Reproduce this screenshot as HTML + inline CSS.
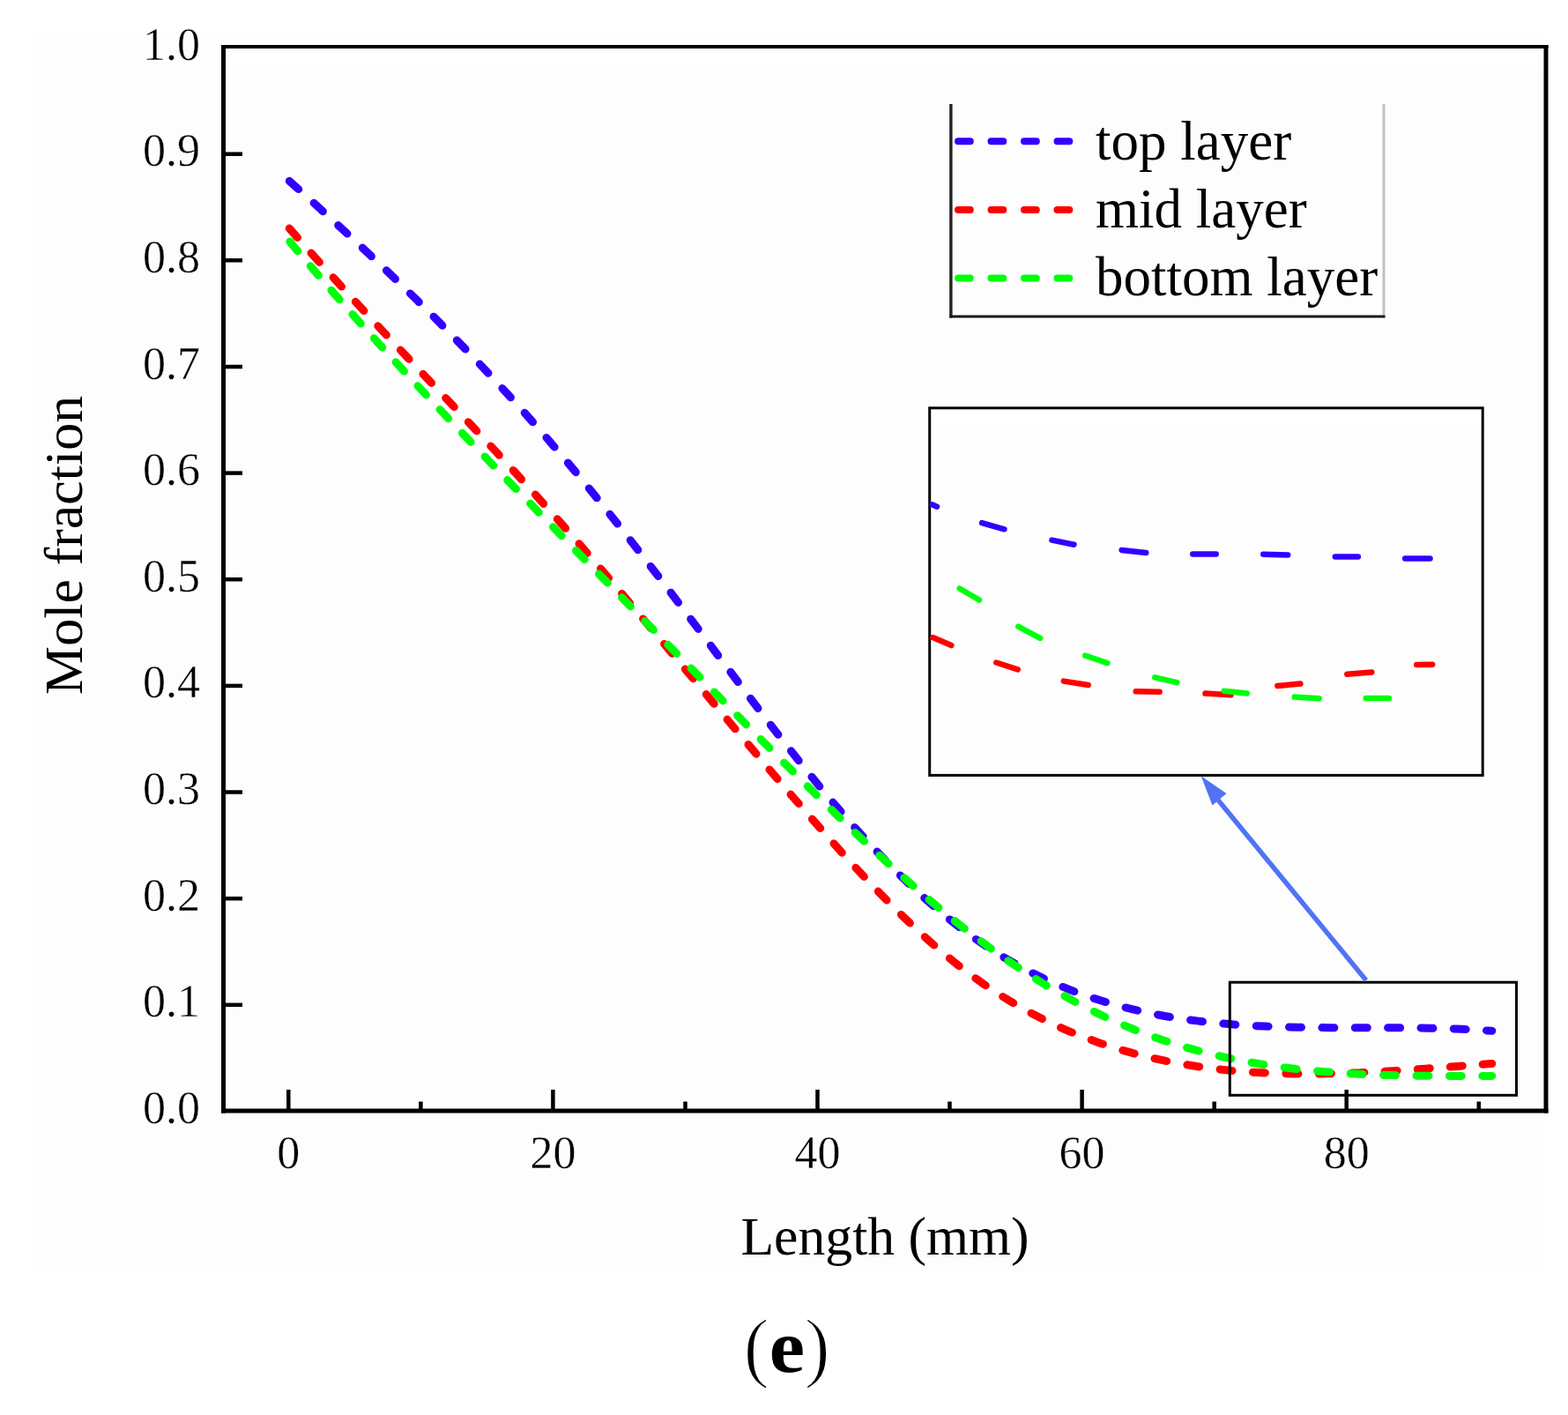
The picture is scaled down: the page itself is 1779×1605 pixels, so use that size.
<!DOCTYPE html>
<html><head><meta charset="utf-8"><title>Mole fraction vs Length</title>
<style>
html,body{margin:0;padding:0;background:#fff;}
body{width:1779px;height:1605px;overflow:hidden;position:relative;}
svg{position:absolute;left:0;top:0;}
svg text{font-family:'Liberation Serif', 'Times New Roman', serif;fill:#000;}
svg .tk text{stroke:#fdfdfe;stroke-width:0.4px;}
svg text.par{stroke:#fff;stroke-width:1.8px;}
svg text.cap{stroke:none;}
</style></head>
<body>
<svg width="1779" height="1605" viewBox="0 0 1779 1605">
<rect x="37" y="35" width="1713" height="1408" fill="#fdfdfe"/>
<rect x="256" y="55" width="1496" height="19" fill="#fff"/>
<rect x="256" y="55" width="7" height="1203" fill="#fff"/>
<rect x="1397" y="1115.5" width="322" height="19" fill="#fff"/>
<rect x="1397" y="1115.5" width="10" height="125" fill="#fff"/>
<!-- curves -->
<path fill="none" stroke="#3300ff" stroke-width="9" stroke-linecap="round" d="M328.3,205.3 L337.5,213.6 L338.7,214.6 M356.1,230.3 L365.3,238.7 L366.4,239.8 M383.7,255.6 L392.9,264.0 L394.0,265.1 M411.2,281.1 L420.4,289.7 L421.4,290.7 M438.4,306.8 L447.7,315.8 L448.5,316.5 M465.4,332.9 L474.6,341.9 L475.3,342.7 M492.0,359.2 L501.2,368.5 L501.9,369.2 M518.3,386.0 L527.6,395.5 L528.1,396.0 M544.3,413.0 L553.6,422.8 L553.9,423.2 M569.9,440.5 L579.0,450.4 L579.4,450.8 M595.2,468.3 L604.3,478.6 L604.5,478.7 M620.0,496.4 L629.1,507.1 M644.4,525.0 L653.3,535.7 M668.3,553.9 L677.2,564.8 M691.9,583.2 L700.6,594.1 M715.2,612.7 L723.8,623.7 M738.2,642.4 L746.8,653.5 M761.1,672.2 L769.5,683.4 M783.7,702.2 L792.2,713.4 M806.3,732.3 L814.7,743.5 M828.9,762.3 L837.3,773.5 M851.5,792.3 L860.0,803.5 M874.3,822.2 L882.9,833.3 M897.5,851.8 L906.2,862.8 M921.0,881.2 L929.8,892.0 M945.0,910.1 L954.1,920.7 M969.7,938.4 L979.0,948.7 L979.0,948.8 M995.1,966.1 L1004.2,975.6 L1004.8,976.2 M1021.4,992.9 L1030.6,1001.8 L1031.5,1002.6 M1048.8,1018.6 L1058.0,1026.7 L1059.3,1027.8 M1077.4,1042.9 L1086.6,1050.2 L1088.4,1051.5 M1107.4,1065.4 L1116.7,1071.8 L1119.0,1073.3 M1138.9,1085.8 L1148.1,1091.2 L1151.0,1092.8 M1171.8,1103.9 L1181.1,1108.4 L1184.4,1110.0 M1205.9,1119.4 L1215.3,1123.1 L1218.9,1124.6 M1241.1,1132.4 L1250.3,1135.3 L1254.4,1136.6 M1277.1,1142.9 L1286.3,1145.1 L1290.7,1146.2 M1313.6,1151.0 L1322.9,1152.7 L1327.4,1153.5 M1350.6,1157.0 L1359.8,1158.1 L1364.5,1158.7 M1387.8,1161.1 L1397.1,1161.8 L1401.8,1162.2 M1425.2,1163.7 L1434.4,1164.1 L1439.1,1164.3 M1462.5,1165.0 L1471.8,1165.2 L1476.5,1165.3 M1499.9,1165.6 L1509.1,1165.7 L1513.9,1165.7 M1537.3,1165.7 L1546.4,1165.7 L1551.3,1165.7 M1574.6,1165.7 L1583.8,1165.8 L1588.6,1165.8 M1612.0,1166.0 L1621.1,1166.2 L1626.0,1166.3 M1649.3,1166.9 L1658.4,1167.3 L1663.2,1167.5 M1686.5,1168.9 L1692.8,1169.3"/>
<path fill="none" stroke="#ff0000" stroke-width="9" stroke-linecap="round" d="M328.2,259.0 L337.5,269.5 M353.0,287.0 L362.4,297.4 L362.4,297.4 M378.1,314.8 L387.4,325.0 L387.5,325.1 M403.3,342.3 L412.7,352.4 L412.9,352.6 M428.8,369.7 L437.9,379.5 L438.4,380.0 M454.4,397.0 L463.6,406.9 L464.0,407.2 M480.0,424.3 L489.1,433.9 L489.6,434.4 M505.7,451.5 L514.9,461.2 L515.3,461.6 M531.3,478.7 L540.6,488.6 L540.9,488.9 M556.8,506.0 L566.1,516.0 L566.3,516.2 M582.2,533.4 L591.3,543.4 L591.6,543.7 M607.4,561.0 L616.6,571.2 L616.7,571.4 M632.3,588.8 L641.4,599.1 L641.6,599.3 M657.0,616.8 L666.2,627.4 M681.4,645.0 L690.5,655.6 M705.6,673.4 L714.6,684.1 M729.6,701.9 L738.6,712.6 M753.6,730.4 L762.5,741.2 M777.4,759.0 L786.4,769.7 M801.3,787.6 L810.2,798.3 M825.1,816.1 L834.1,826.8 M849.0,844.5 L858.0,855.2 M873.0,872.9 L882.1,883.5 M897.1,901.1 L906.3,911.6 M921.4,929.0 L930.7,939.5 M946.0,956.8 L955.1,966.9 L955.3,967.2 M970.9,984.2 L980.1,994.1 L980.4,994.4 M996.3,1011.1 L1005.4,1020.4 L1006.1,1021.1 M1022.4,1037.4 L1031.6,1046.2 L1032.4,1047.1 M1049.3,1062.8 L1058.6,1071.1 L1059.8,1072.1 M1077.4,1087.0 L1086.6,1094.4 L1088.3,1095.8 M1106.9,1109.7 L1116.0,1116.2 L1118.3,1117.7 M1137.7,1130.5 L1147.0,1136.1 L1149.7,1137.7 M1170.0,1149.2 L1179.3,1154.0 L1182.4,1155.6 M1203.5,1165.6 L1212.7,1169.6 L1216.4,1171.1 M1238.2,1179.6 L1247.3,1182.9 L1251.4,1184.3 M1273.8,1191.3 L1283.1,1193.9 L1287.2,1195.1 M1310.0,1200.7 L1319.3,1202.7 L1323.7,1203.6 M1346.9,1207.8 L1356.1,1209.3 L1360.7,1210.0 M1384.1,1213.0 L1393.3,1213.9 L1398.0,1214.4 M1421.5,1216.2 L1430.6,1216.7 L1435.4,1217.0 M1458.9,1217.8 L1468.1,1217.9 L1472.9,1218.0 M1496.4,1218.0 L1505.7,1217.8 L1510.4,1217.7 M1533.8,1217.0 L1543.0,1216.7 L1547.8,1216.4 M1571.1,1215.2 L1580.4,1214.7 L1585.1,1214.4 M1608.3,1212.8 L1617.5,1212.2 L1622.2,1211.8 M1645.3,1210.1 L1654.6,1209.4 L1659.2,1209.0 M1682.2,1207.3 L1691.4,1206.6 L1692.8,1206.5"/>
<path fill="none" stroke="#00ff0c" stroke-width="9" stroke-linecap="round" d="M328.8,274.1 L337.8,284.8 M352.2,301.8 L361.3,312.4 M375.9,329.2 L385.1,339.7 L385.1,339.8 M400.0,356.6 L409.2,366.9 L409.3,367.0 M424.4,383.7 L433.6,393.9 L433.8,394.1 M449.0,410.8 L458.2,420.7 L458.5,421.1 M474.0,437.7 L483.2,447.6 L483.5,447.9 M499.1,464.5 L508.3,474.2 L508.7,474.7 M524.5,491.3 L533.8,501.0 L534.2,501.4 M550.0,517.9 L559.2,527.5 L559.7,528.0 M575.7,544.6 L585.0,554.1 L585.5,554.6 M601.6,571.2 L610.7,580.6 L611.3,581.2 M627.5,597.8 L636.6,607.2 L637.2,607.8 M653.5,624.5 L662.6,633.8 L663.2,634.5 M679.5,651.1 L688.8,660.6 L689.3,661.1 M705.6,677.8 L714.7,687.2 L715.4,687.8 M731.7,704.6 L740.9,713.9 L741.5,714.6 M757.9,731.3 L767.1,740.7 L767.7,741.3 M784.1,758.1 L793.5,767.6 L793.9,768.1 M810.4,784.9 L819.6,794.3 L820.2,794.9 M836.7,811.7 L846.0,821.1 L846.6,821.7 M863.1,838.5 L872.5,847.9 L873.0,848.4 M889.6,865.2 L898.9,874.4 L899.5,875.1 M916.3,891.8 L925.5,900.9 L926.3,901.7 M943.2,918.3 L952.3,927.2 L953.2,928.0 M970.3,944.4 L979.4,953.1 L980.5,954.1 M997.8,970.3 L1007.0,978.7 L1008.1,979.8 M1025.8,995.7 L1035.0,1003.8 L1036.2,1004.9 M1054.2,1020.5 L1063.4,1028.2 L1064.9,1029.5 M1083.3,1044.6 L1092.6,1051.9 L1094.3,1053.3 M1113.2,1067.7 L1122.4,1074.6 L1124.4,1076.0 M1143.8,1089.8 L1153.1,1096.1 L1155.4,1097.6 M1175.4,1110.5 L1184.5,1116.2 L1187.3,1117.9 M1207.9,1129.8 L1217.1,1134.9 L1220.1,1136.5 M1241.3,1147.4 L1250.5,1151.9 L1253.9,1153.5 M1275.6,1163.1 L1284.9,1167.0 L1288.5,1168.5 M1310.7,1176.8 L1320.0,1180.0 L1324.0,1181.3 M1346.6,1188.3 L1355.9,1190.9 L1360.1,1192.1 M1383.1,1197.7 L1392.3,1199.8 L1396.8,1200.7 M1420.0,1205.2 L1429.2,1206.8 L1433.9,1207.5 M1457.2,1210.9 L1466.5,1212.0 L1471.1,1212.6 M1494.6,1215.0 L1503.9,1215.8 L1508.6,1216.1 M1532.1,1217.7 L1541.2,1218.2 L1546.1,1218.4 M1569.6,1219.4 L1578.8,1219.6 L1583.5,1219.7 M1607.0,1220.2 L1616.3,1220.3 L1621.0,1220.3 M1644.4,1220.4 L1653.6,1220.4 L1658.4,1220.4 M1681.8,1220.4 L1691.0,1220.4 L1692.8,1220.4"/>

<!-- frame -->
<g stroke="#000" fill="none">
<line x1="251" y1="53" x2="1756.5" y2="53" stroke-width="4"/>
<line x1="1754" y1="51" x2="1754" y2="1262.5" stroke-width="5"/>
<line x1="253.5" y1="51" x2="253.5" y2="1262.5" stroke-width="5"/>
<line x1="251" y1="1260" x2="1756.5" y2="1260" stroke-width="5"/>
<g stroke-width="4.5"><line x1="253.5" y1="1139.8" x2="275" y2="1139.8"/><line x1="253.5" y1="1019.2" x2="275" y2="1019.2"/><line x1="253.5" y1="898.5" x2="275" y2="898.5"/><line x1="253.5" y1="777.9" x2="275" y2="777.9"/><line x1="253.5" y1="657.2" x2="275" y2="657.2"/><line x1="253.5" y1="536.6" x2="275" y2="536.6"/><line x1="253.5" y1="416.0" x2="275" y2="416.0"/><line x1="253.5" y1="295.3" x2="275" y2="295.3"/><line x1="253.5" y1="174.7" x2="275" y2="174.7"/><line x1="327.3" y1="1260" x2="327.3" y2="1236"/><line x1="627.4" y1="1260" x2="627.4" y2="1236"/><line x1="927.5" y1="1260" x2="927.5" y2="1236"/><line x1="1227.6" y1="1260" x2="1227.6" y2="1236"/><line x1="1527.7" y1="1260" x2="1527.7" y2="1236"/><line x1="477.4" y1="1260" x2="477.4" y2="1249.5"/><line x1="777.5" y1="1260" x2="777.5" y2="1249.5"/><line x1="1077.5" y1="1260" x2="1077.5" y2="1249.5"/><line x1="1377.7" y1="1260" x2="1377.7" y2="1249.5"/><line x1="1677.8" y1="1260" x2="1677.8" y2="1249.5"/></g>
</g>
<!-- tick labels -->
<g class="tk" font-size="52"><text x="227" y="1274.0" text-anchor="end">0.0</text><text x="227" y="1153.3" text-anchor="end">0.1</text><text x="227" y="1032.7" text-anchor="end">0.2</text><text x="227" y="912.0" text-anchor="end">0.3</text><text x="227" y="791.4" text-anchor="end">0.4</text><text x="227" y="670.8" text-anchor="end">0.5</text><text x="227" y="550.1" text-anchor="end">0.6</text><text x="227" y="429.5" text-anchor="end">0.7</text><text x="227" y="308.8" text-anchor="end">0.8</text><text x="227" y="188.2" text-anchor="end">0.9</text><text x="227" y="67.5" text-anchor="end">1.0</text><text x="327.3" y="1325" text-anchor="middle">0</text><text x="627.4" y="1325" text-anchor="middle">20</text><text x="927.5" y="1325" text-anchor="middle">40</text><text x="1227.6" y="1325" text-anchor="middle">60</text><text x="1527.7" y="1325" text-anchor="middle">80</text></g>
<text x="1004" y="1423.4" font-size="61.7" text-anchor="middle">Length (mm)</text>
<text transform="translate(92.8,618.3) rotate(-90)" font-size="62" text-anchor="middle">Mole fraction</text>
<!-- legend -->
<g fill="none">
<line x1="1078.9" y1="118" x2="1078.9" y2="360.5" stroke="#222" stroke-width="3.4"/>
<line x1="1570" y1="118" x2="1570" y2="360.5" stroke="#c6bec4" stroke-width="3"/>
<line x1="1077.2" y1="359" x2="1571.5" y2="359" stroke="#1a1a1a" stroke-width="3"/>
</g>
<g stroke-width="8" stroke-dasharray="13.8 23.7" stroke-linecap="round" fill="none">
<line x1="1087" y1="160.3" x2="1214" y2="160.3" stroke="#3300ff"/>
<line x1="1087" y1="238.1" x2="1214" y2="238.1" stroke="#ff0000"/>
<line x1="1087" y1="315.4" x2="1214" y2="315.4" stroke="#00ff0c"/>
</g>
<g font-size="63">
<text x="1243" y="181">top layer</text>
<text x="1243" y="258">mid layer</text>
<text x="1243" y="335.3">bottom layer</text>
</g>
<!-- inset -->
<rect x="1056" y="464" width="625" height="414" fill="#fdfdfe"/>
<rect x="1056" y="464" width="625" height="19" fill="#fff"/>
<rect x="1056" y="464" width="7.5" height="414" fill="#fff"/>
<rect x="1054.7" y="462.8" width="627.5" height="416.6" fill="none" stroke="#000" stroke-width="3"/>
<g stroke="#3300ff" stroke-width="6.5" stroke-linecap="round"><line x1="1057.5" y1="572.3" x2="1063.0" y2="574.7"/>
<line x1="1114.1" y1="593.1" x2="1139.4" y2="600.3"/>
<line x1="1193.4" y1="612.6" x2="1218.5" y2="617.7"/>
<line x1="1272.6" y1="623.9" x2="1300.3" y2="626.9"/>
<line x1="1353.3" y1="628.6" x2="1379.7" y2="628.6"/>
<line x1="1433.2" y1="628.7" x2="1461.2" y2="629.5"/>
<line x1="1514.8" y1="631.6" x2="1540.8" y2="631.6"/>
<line x1="1594.2" y1="633.6" x2="1622.5" y2="633.6"/></g>
<g stroke="#ff0000" stroke-width="6.5" stroke-linecap="round"><line x1="1058.3" y1="723.0" x2="1079.3" y2="732.1"/>
<line x1="1130.3" y1="751.5" x2="1154.7" y2="759.4"/>
<line x1="1206.9" y1="772.6" x2="1234.7" y2="777.0"/>
<line x1="1288.7" y1="784.3" x2="1315.6" y2="784.7"/>
<line x1="1367.5" y1="786.6" x2="1396.5" y2="788.2"/>
<line x1="1449.4" y1="778.0" x2="1475.4" y2="775.6"/>
<line x1="1528.3" y1="764.8" x2="1556.3" y2="762.4"/>
<line x1="1607.3" y1="753.9" x2="1625.1" y2="753.7"/></g>
<g stroke="#00ff0c" stroke-width="6.5" stroke-linecap="round"><line x1="1088.7" y1="667.5" x2="1111.0" y2="680.5"/>
<line x1="1155.3" y1="710.6" x2="1180.1" y2="723.8"/>
<line x1="1231.1" y1="743.5" x2="1256.4" y2="752.1"/>
<line x1="1310.3" y1="768.3" x2="1335.4" y2="774.1"/>
<line x1="1388.7" y1="783.7" x2="1414.7" y2="786.5"/>
<line x1="1468.7" y1="790.6" x2="1496.7" y2="792.3"/>
<line x1="1549.7" y1="792.1" x2="1576.0" y2="792.1"/></g>

<!-- small box -->
<rect x="1395.3" y="1114.2" width="325.2" height="128.1" fill="none" stroke="#000" stroke-width="3"/>
<!-- arrow -->
<line x1="1550" y1="1112" x2="1380" y2="905" stroke="#5073f5" stroke-width="5.5"/>
<polygon points="1362.7,880.2 1391.5,900 1375.5,913.5" fill="#5073f5"/>
<!-- caption -->
<text class="par" y="1556.5" font-size="88"><tspan x="843.5">(</tspan></text>
<text class="cap" y="1556.5" font-size="84" font-weight="bold" transform="translate(872.7 0) scale(1.08 1)" x="0">e</text>
<text class="par" y="1556.5" font-size="88"><tspan x="912.5">)</tspan></text>
</svg>
</body></html>
